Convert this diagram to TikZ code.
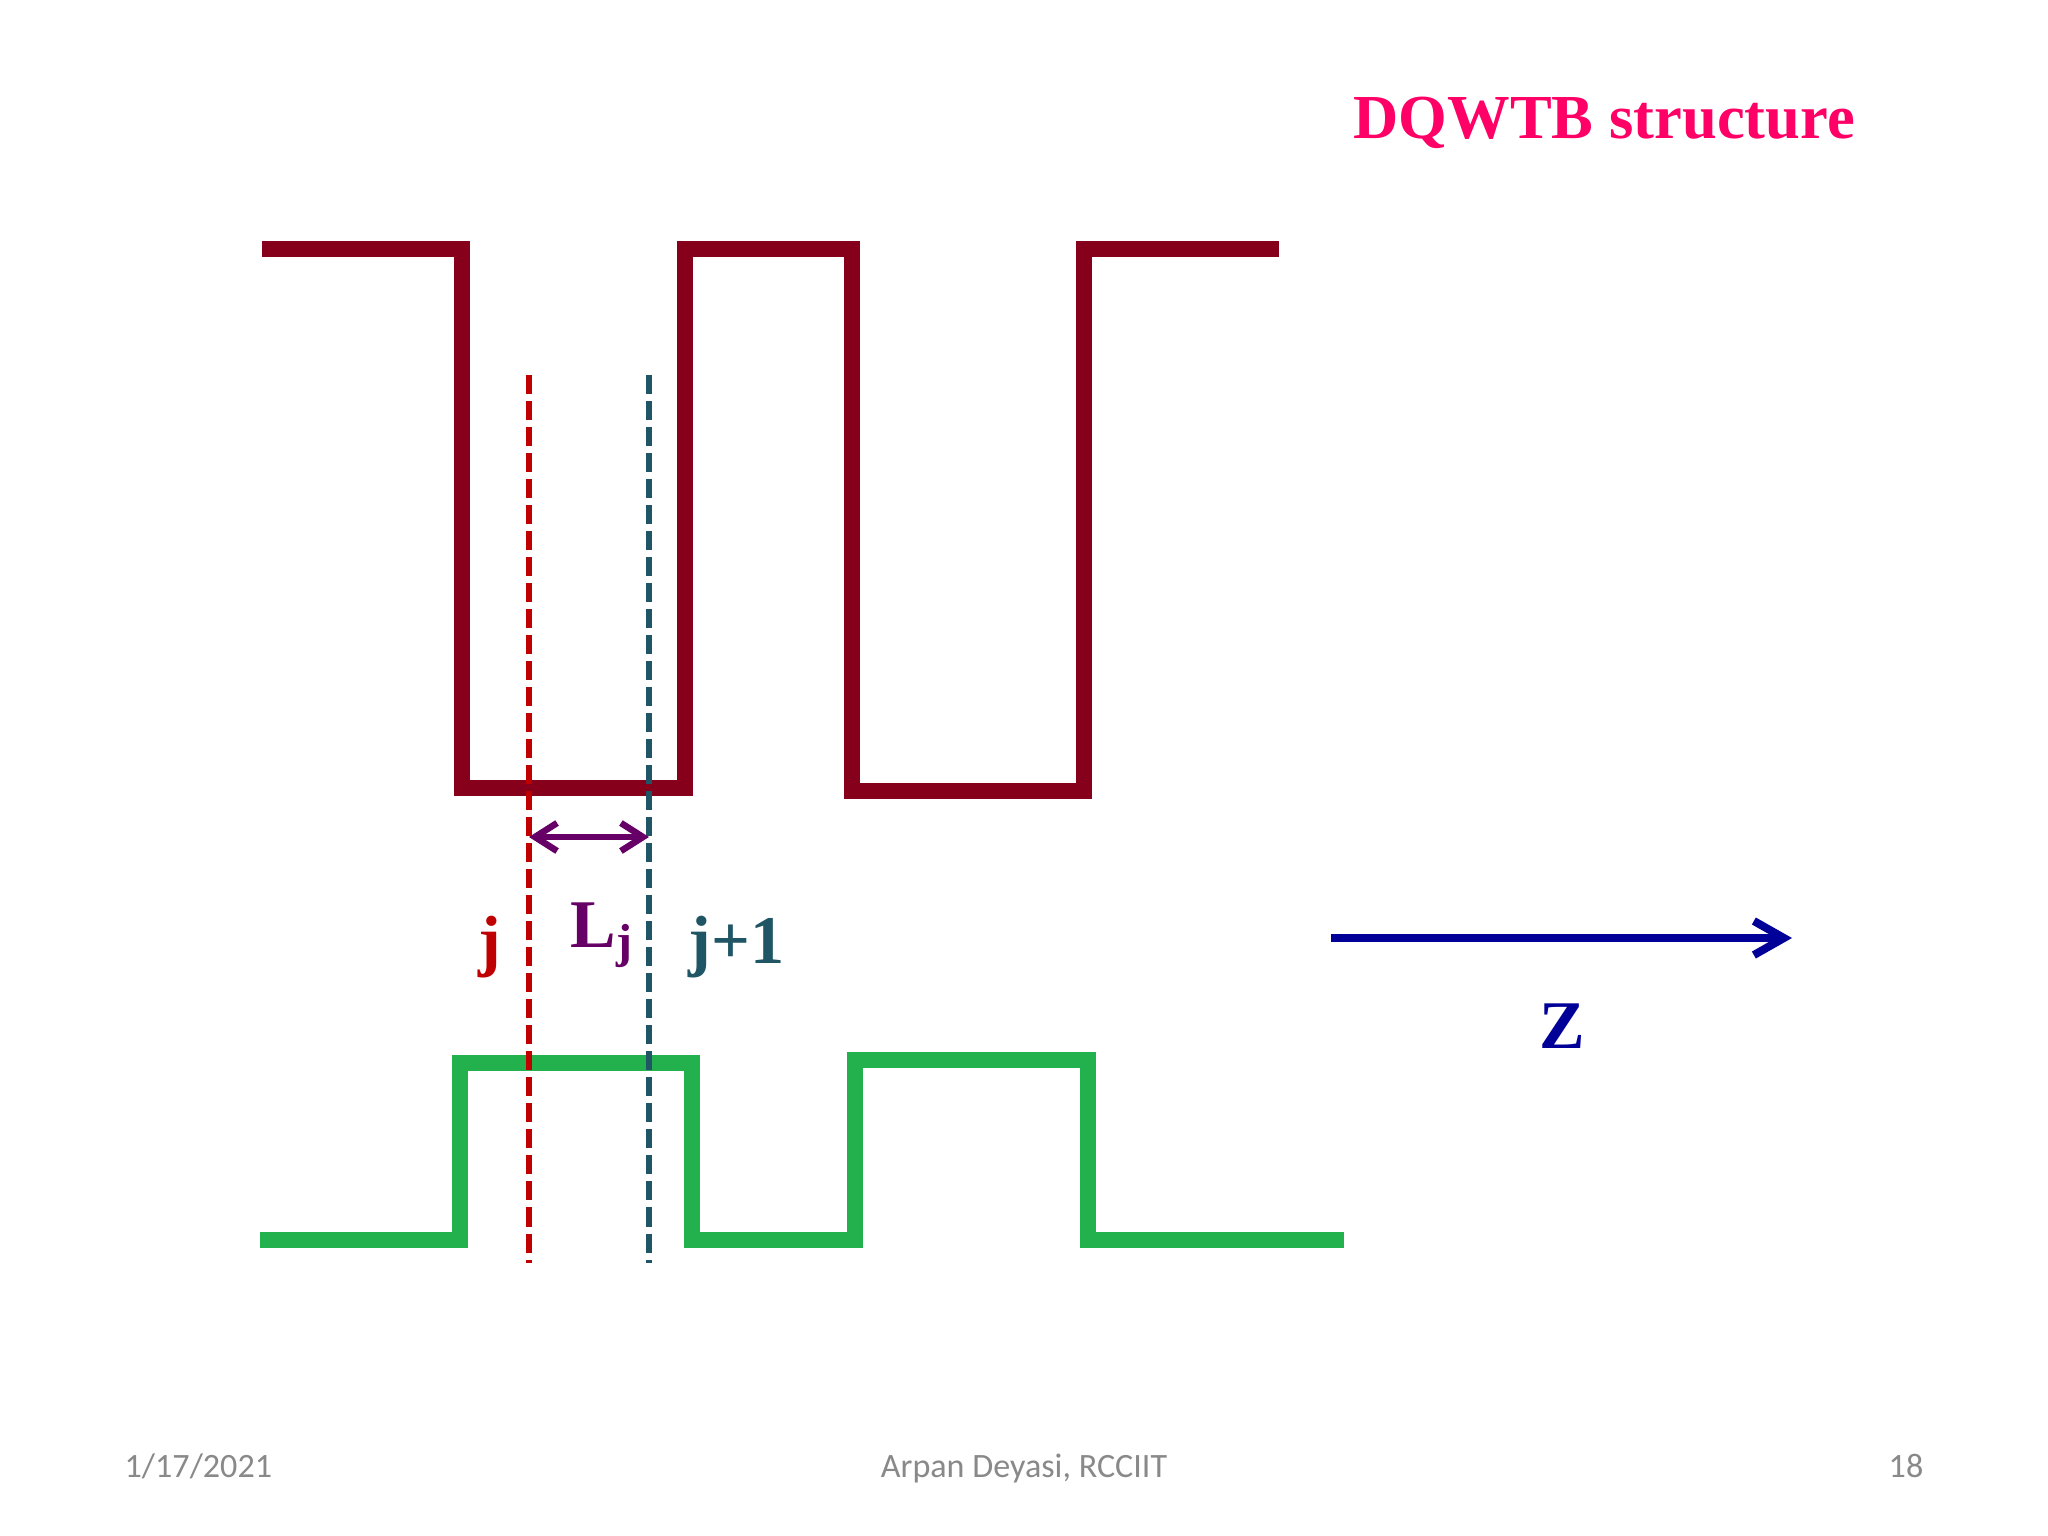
\documentclass[tikz,border=0pt]{standalone}
\usepackage{fontspec}
\setmainfont{Liberation Serif}
\newfontfamily\footfont{Carlito}
\usetikzlibrary{arrows.meta}
\definecolor{maroon}{RGB}{134,0,28}
\definecolor{gron}{RGB}{34,177,76}
\definecolor{rod}{RGB}{192,0,0}
\definecolor{petrol}{RGB}{31,85,100}
\definecolor{lila}{RGB}{102,0,102}
\definecolor{navy}{RGB}{0,0,153}
\definecolor{rosa}{RGB}{255,0,102}
\definecolor{footgray}{RGB}{137,137,137}
\tikzset{
  band/.style={line width=1.6mm, line join=miter},
  plane/.style={line width=0.6mm, dash pattern=on 1.9mm off 0.7mm},
  lbl/.style={inner sep=0pt, font=\fontsize{19.4}{22}\selectfont\bfseries},
  foot/.style={inner sep=0pt, text=footgray, font=\footfont\fontsize{9.7}{12}\selectfont},
}

\begin{document}
\begin{tikzpicture}[x=0.01cm,y=-0.01cm]
\fill[white] (0,0) rectangle (2048,1536);
\node[anchor=base west, inner sep=0pt, text=rosa, font=\fontsize{17.8}{20}\selectfont\bfseries] (title) at (1353,138) {DQWTB structure};
\draw[band, color=maroon] (262,249) -- (462,249) -- (462,788) -- (685,788) -- (685,249) -- (852,249) -- (852,791) -- (1084,791) -- (1084,249) -- (1279,249);
\draw[band, color=gron] (260,1240) -- (460,1240) -- (460,1063) -- (692,1063) -- (692,1240) -- (855,1240) -- (855,1060) -- (1088,1060) -- (1088,1240) -- (1344,1240);
\coordinate (jtop) at (529,375);
\coordinate (jbot) at (529,1263);
\coordinate (ktop) at (649,375);
\coordinate (kbot) at (649,1263);
\draw[plane, color=rod] (jtop) -- (jbot);
\draw[plane, color=petrol] (ktop) -- (kbot);
\coordinate (ja) at (529,837);
\coordinate (ka) at (649,837);
\draw[color=lila, line width=0.65mm, {Straight Barb[length=2.2mm,width=2.8mm]}-{Straight Barb[length=2.2mm,width=2.8mm]}] (ja) -- (ka);
\node[lbl, anchor=base, text=rod] (j) at (490,963) {j};
\node[lbl, anchor=base west, text=lila] (lj) at (570,947) {L\textsubscript{j}};
\node[lbl, anchor=base west, text=petrol] (jp) at (688,963) {j+1};
\coordinate (zs) at (1331,938);
\coordinate (ze) at (1792,938);
\draw[color=navy, line width=0.8mm, -{Straight Barb[length=3mm,width=3.4mm]}] (zs) -- (ze);
\node[lbl, anchor=base west, text=navy] (z) at (1539,1048) {Z};
\node[foot, anchor=base west] (date) at (124,1477) {1/17/2021};
\node[foot, anchor=base] (author) at (1024,1477) {Arpan Deyasi, RCCIIT};
\node[foot, anchor=base east] (page) at (1924,1477) {18};
\end{tikzpicture}
\end{document}
